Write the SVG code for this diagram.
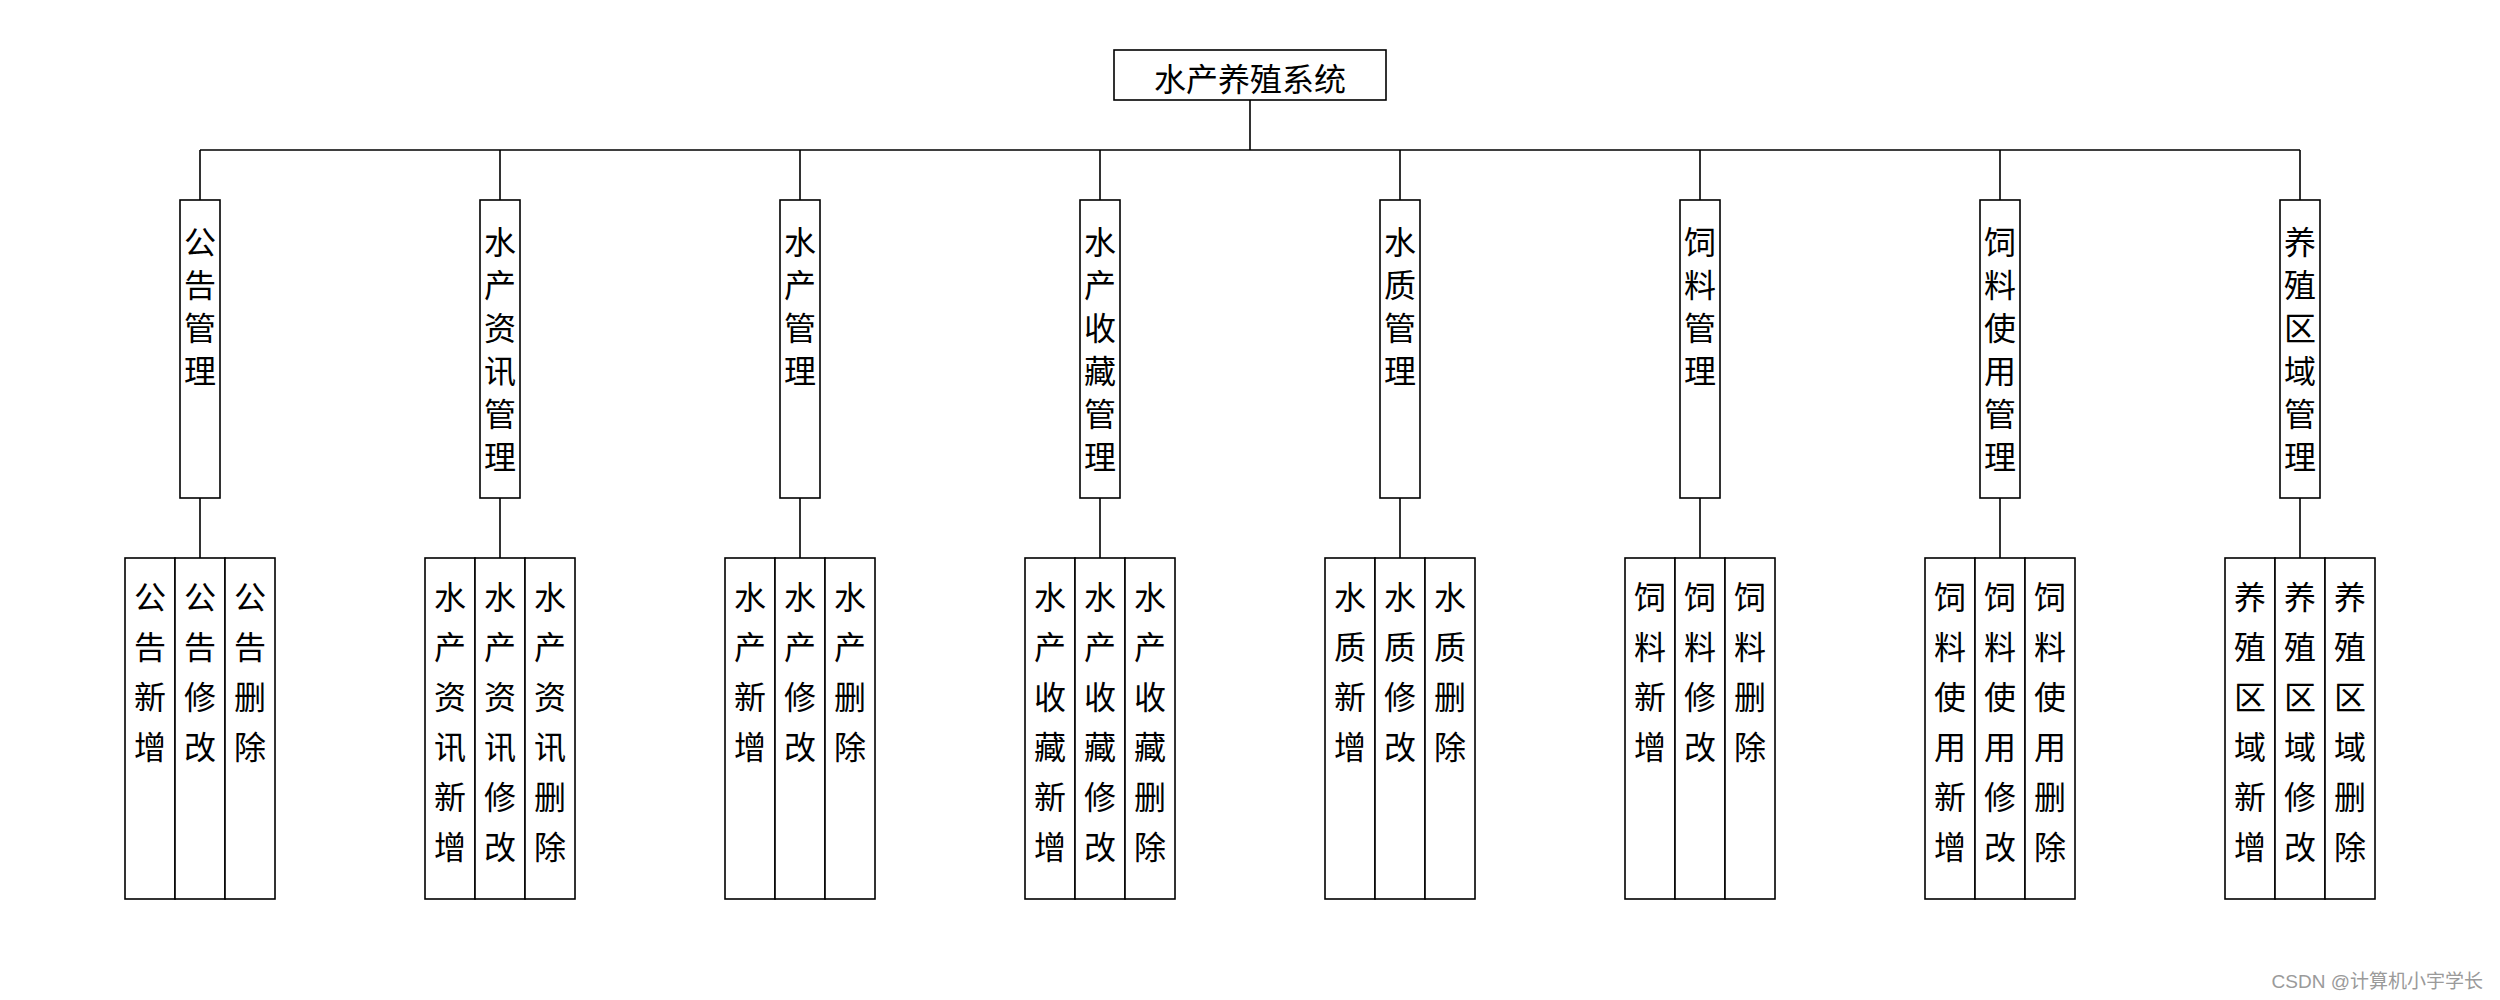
<svg xmlns="http://www.w3.org/2000/svg" width="2500" height="1000" viewBox="0 0 2500 1000">
<style>
.box{fill:#fff;stroke:#000;stroke-width:1.6}
.ln{fill:none;stroke:#000;stroke-width:1.6}
.t{font-family:"Noto Sans CJK SC","Noto Sans",sans-serif;font-size:32px;fill:#000;text-anchor:middle}
.wm{font-family:"Liberation Sans","Noto Sans CJK SC",sans-serif;font-size:19px;fill:#9a9a9a;text-anchor:end}
</style>
<rect width="2500" height="1000" fill="#fff"/>
<g id="connectors">
<path class="ln" d="M1250 100V150M200 150H2300"/>
<path class="ln" d="M200 150V200M500 150V200M800 150V200M1100 150V200M1400 150V200M1700 150V200M2000 150V200M2300 150V200"/>
<path class="ln" d="M200 498V558M500 498V558M800 498V558M1100 498V558M1400 498V558M1700 498V558M2000 498V558M2300 498V558"/>
</g>
<g id="root"><rect class="box" x="1114" y="50" width="272" height="50"/><text class="t" x="1250" y="91">水产养殖系统</text></g>

<g id="n1"><rect class="box" x="180" y="200" width="40" height="298"/><text class="t"><tspan x="200" y="254">公</tspan><tspan x="200" y="297">告</tspan><tspan x="200" y="340">管</tspan><tspan x="200" y="383">理</tspan></text></g>
<g id="n2"><rect class="box" x="480" y="200" width="40" height="298"/><text class="t"><tspan x="500" y="254">水</tspan><tspan x="500" y="297">产</tspan><tspan x="500" y="340">资</tspan><tspan x="500" y="383">讯</tspan><tspan x="500" y="426">管</tspan><tspan x="500" y="469">理</tspan></text></g>
<g id="n3"><rect class="box" x="780" y="200" width="40" height="298"/><text class="t"><tspan x="800" y="254">水</tspan><tspan x="800" y="297">产</tspan><tspan x="800" y="340">管</tspan><tspan x="800" y="383">理</tspan></text></g>
<g id="n4"><rect class="box" x="1080" y="200" width="40" height="298"/><text class="t"><tspan x="1100" y="254">水</tspan><tspan x="1100" y="297">产</tspan><tspan x="1100" y="340">收</tspan><tspan x="1100" y="383">藏</tspan><tspan x="1100" y="426">管</tspan><tspan x="1100" y="469">理</tspan></text></g>
<g id="n5"><rect class="box" x="1380" y="200" width="40" height="298"/><text class="t"><tspan x="1400" y="254">水</tspan><tspan x="1400" y="297">质</tspan><tspan x="1400" y="340">管</tspan><tspan x="1400" y="383">理</tspan></text></g>
<g id="n6"><rect class="box" x="1680" y="200" width="40" height="298"/><text class="t"><tspan x="1700" y="254">饲</tspan><tspan x="1700" y="297">料</tspan><tspan x="1700" y="340">管</tspan><tspan x="1700" y="383">理</tspan></text></g>
<g id="n7"><rect class="box" x="1980" y="200" width="40" height="298"/><text class="t"><tspan x="2000" y="254">饲</tspan><tspan x="2000" y="297">料</tspan><tspan x="2000" y="340">使</tspan><tspan x="2000" y="383">用</tspan><tspan x="2000" y="426">管</tspan><tspan x="2000" y="469">理</tspan></text></g>
<g id="n8"><rect class="box" x="2280" y="200" width="40" height="298"/><text class="t"><tspan x="2300" y="254">养</tspan><tspan x="2300" y="297">殖</tspan><tspan x="2300" y="340">区</tspan><tspan x="2300" y="383">域</tspan><tspan x="2300" y="426">管</tspan><tspan x="2300" y="469">理</tspan></text></g>

<g id="n1a"><rect class="box" x="125" y="558" width="50" height="341"/><text class="t"><tspan x="150" y="609">公</tspan><tspan x="150" y="659">告</tspan><tspan x="150" y="709">新</tspan><tspan x="150" y="759">增</tspan></text></g>
<g id="n1b"><rect class="box" x="175" y="558" width="50" height="341"/><text class="t"><tspan x="200" y="609">公</tspan><tspan x="200" y="659">告</tspan><tspan x="200" y="709">修</tspan><tspan x="200" y="759">改</tspan></text></g>
<g id="n1c"><rect class="box" x="225" y="558" width="50" height="341"/><text class="t"><tspan x="250" y="609">公</tspan><tspan x="250" y="659">告</tspan><tspan x="250" y="709">删</tspan><tspan x="250" y="759">除</tspan></text></g>

<g id="n2a"><rect class="box" x="425" y="558" width="50" height="341"/><text class="t"><tspan x="450" y="609">水</tspan><tspan x="450" y="659">产</tspan><tspan x="450" y="709">资</tspan><tspan x="450" y="759">讯</tspan><tspan x="450" y="809">新</tspan><tspan x="450" y="859">增</tspan></text></g>
<g id="n2b"><rect class="box" x="475" y="558" width="50" height="341"/><text class="t"><tspan x="500" y="609">水</tspan><tspan x="500" y="659">产</tspan><tspan x="500" y="709">资</tspan><tspan x="500" y="759">讯</tspan><tspan x="500" y="809">修</tspan><tspan x="500" y="859">改</tspan></text></g>
<g id="n2c"><rect class="box" x="525" y="558" width="50" height="341"/><text class="t"><tspan x="550" y="609">水</tspan><tspan x="550" y="659">产</tspan><tspan x="550" y="709">资</tspan><tspan x="550" y="759">讯</tspan><tspan x="550" y="809">删</tspan><tspan x="550" y="859">除</tspan></text></g>

<g id="n3a"><rect class="box" x="725" y="558" width="50" height="341"/><text class="t"><tspan x="750" y="609">水</tspan><tspan x="750" y="659">产</tspan><tspan x="750" y="709">新</tspan><tspan x="750" y="759">增</tspan></text></g>
<g id="n3b"><rect class="box" x="775" y="558" width="50" height="341"/><text class="t"><tspan x="800" y="609">水</tspan><tspan x="800" y="659">产</tspan><tspan x="800" y="709">修</tspan><tspan x="800" y="759">改</tspan></text></g>
<g id="n3c"><rect class="box" x="825" y="558" width="50" height="341"/><text class="t"><tspan x="850" y="609">水</tspan><tspan x="850" y="659">产</tspan><tspan x="850" y="709">删</tspan><tspan x="850" y="759">除</tspan></text></g>

<g id="n4a"><rect class="box" x="1025" y="558" width="50" height="341"/><text class="t"><tspan x="1050" y="609">水</tspan><tspan x="1050" y="659">产</tspan><tspan x="1050" y="709">收</tspan><tspan x="1050" y="759">藏</tspan><tspan x="1050" y="809">新</tspan><tspan x="1050" y="859">增</tspan></text></g>
<g id="n4b"><rect class="box" x="1075" y="558" width="50" height="341"/><text class="t"><tspan x="1100" y="609">水</tspan><tspan x="1100" y="659">产</tspan><tspan x="1100" y="709">收</tspan><tspan x="1100" y="759">藏</tspan><tspan x="1100" y="809">修</tspan><tspan x="1100" y="859">改</tspan></text></g>
<g id="n4c"><rect class="box" x="1125" y="558" width="50" height="341"/><text class="t"><tspan x="1150" y="609">水</tspan><tspan x="1150" y="659">产</tspan><tspan x="1150" y="709">收</tspan><tspan x="1150" y="759">藏</tspan><tspan x="1150" y="809">删</tspan><tspan x="1150" y="859">除</tspan></text></g>

<g id="n5a"><rect class="box" x="1325" y="558" width="50" height="341"/><text class="t"><tspan x="1350" y="609">水</tspan><tspan x="1350" y="659">质</tspan><tspan x="1350" y="709">新</tspan><tspan x="1350" y="759">增</tspan></text></g>
<g id="n5b"><rect class="box" x="1375" y="558" width="50" height="341"/><text class="t"><tspan x="1400" y="609">水</tspan><tspan x="1400" y="659">质</tspan><tspan x="1400" y="709">修</tspan><tspan x="1400" y="759">改</tspan></text></g>
<g id="n5c"><rect class="box" x="1425" y="558" width="50" height="341"/><text class="t"><tspan x="1450" y="609">水</tspan><tspan x="1450" y="659">质</tspan><tspan x="1450" y="709">删</tspan><tspan x="1450" y="759">除</tspan></text></g>

<g id="n6a"><rect class="box" x="1625" y="558" width="50" height="341"/><text class="t"><tspan x="1650" y="609">饲</tspan><tspan x="1650" y="659">料</tspan><tspan x="1650" y="709">新</tspan><tspan x="1650" y="759">增</tspan></text></g>
<g id="n6b"><rect class="box" x="1675" y="558" width="50" height="341"/><text class="t"><tspan x="1700" y="609">饲</tspan><tspan x="1700" y="659">料</tspan><tspan x="1700" y="709">修</tspan><tspan x="1700" y="759">改</tspan></text></g>
<g id="n6c"><rect class="box" x="1725" y="558" width="50" height="341"/><text class="t"><tspan x="1750" y="609">饲</tspan><tspan x="1750" y="659">料</tspan><tspan x="1750" y="709">删</tspan><tspan x="1750" y="759">除</tspan></text></g>

<g id="n7a"><rect class="box" x="1925" y="558" width="50" height="341"/><text class="t"><tspan x="1950" y="609">饲</tspan><tspan x="1950" y="659">料</tspan><tspan x="1950" y="709">使</tspan><tspan x="1950" y="759">用</tspan><tspan x="1950" y="809">新</tspan><tspan x="1950" y="859">增</tspan></text></g>
<g id="n7b"><rect class="box" x="1975" y="558" width="50" height="341"/><text class="t"><tspan x="2000" y="609">饲</tspan><tspan x="2000" y="659">料</tspan><tspan x="2000" y="709">使</tspan><tspan x="2000" y="759">用</tspan><tspan x="2000" y="809">修</tspan><tspan x="2000" y="859">改</tspan></text></g>
<g id="n7c"><rect class="box" x="2025" y="558" width="50" height="341"/><text class="t"><tspan x="2050" y="609">饲</tspan><tspan x="2050" y="659">料</tspan><tspan x="2050" y="709">使</tspan><tspan x="2050" y="759">用</tspan><tspan x="2050" y="809">删</tspan><tspan x="2050" y="859">除</tspan></text></g>

<g id="n8a"><rect class="box" x="2225" y="558" width="50" height="341"/><text class="t"><tspan x="2250" y="609">养</tspan><tspan x="2250" y="659">殖</tspan><tspan x="2250" y="709">区</tspan><tspan x="2250" y="759">域</tspan><tspan x="2250" y="809">新</tspan><tspan x="2250" y="859">增</tspan></text></g>
<g id="n8b"><rect class="box" x="2275" y="558" width="50" height="341"/><text class="t"><tspan x="2300" y="609">养</tspan><tspan x="2300" y="659">殖</tspan><tspan x="2300" y="709">区</tspan><tspan x="2300" y="759">域</tspan><tspan x="2300" y="809">修</tspan><tspan x="2300" y="859">改</tspan></text></g>
<g id="n8c"><rect class="box" x="2325" y="558" width="50" height="341"/><text class="t"><tspan x="2350" y="609">养</tspan><tspan x="2350" y="659">殖</tspan><tspan x="2350" y="709">区</tspan><tspan x="2350" y="759">域</tspan><tspan x="2350" y="809">删</tspan><tspan x="2350" y="859">除</tspan></text></g>

<text class="wm" x="2483" y="988">CSDN @计算机小宇学长</text>
</svg>
